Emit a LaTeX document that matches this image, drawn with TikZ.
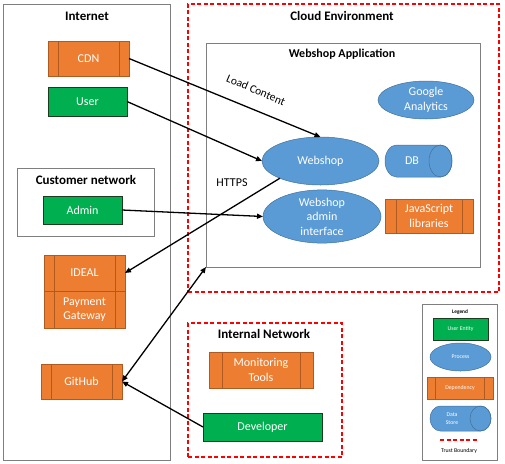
\documentclass[tikz,border=0pt]{standalone}
\usepackage{fontspec}
\setmainfont{Carlito}
\usetikzlibrary{shapes.geometric,arrows.meta,calc,backgrounds}
\definecolor{orangeF}{HTML}{ED7D31}
\definecolor{orangeB}{HTML}{AE5A21}
\definecolor{greenF}{HTML}{00B050}
\definecolor{greenB}{HTML}{1F3B1F}
\definecolor{blueF}{HTML}{5B9BD5}
\definecolor{blueB}{HTML}{41719C}
\definecolor{boxgray}{HTML}{7F7F7F}
\tikzset{
  base/.style={inner sep=0pt, outer sep=0pt, align=center, text=white, font=\fontsize{12}{14.6}\selectfont},
  entity/.style={base, rectangle, draw=greenB, fill=greenF, line width=0.8pt},
  process/.style={base, ellipse, draw=blueB, fill=blueF, line width=0.5pt},
  dep/.style={base, rectangle, draw=orangeB, fill=orangeF, line width=0.4pt,
    path picture={
      \draw[orangeB, line width=0.6pt] ($(path picture bounding box.south west)!0.125!(path picture bounding box.south east)$) -- ($(path picture bounding box.north west)!0.125!(path picture bounding box.north east)$);
      \draw[orangeB, line width=0.6pt] ($(path picture bounding box.south west)!0.875!(path picture bounding box.south east)$) -- ($(path picture bounding box.north west)!0.875!(path picture bounding box.north east)$);
    }},
  store/.style={base, rectangle},
  storeline/.style={draw=blueB, line width=0.5pt},
  container/.style={rectangle, draw=boxgray, line width=0.8pt, inner sep=0pt, outer sep=0pt},
  trust/.style={rectangle, draw=red, line width=1.5pt, dash pattern=on 4pt off 2.5pt, inner sep=0pt, outer sep=0pt},
  title/.style={inner sep=0pt, font=\bfseries\fontsize{13}{14}\selectfont},
  lbl/.style={inner sep=0pt, font=\fontsize{11.5}{13}\selectfont},
  flow/.style={line width=1.3pt, -{Triangle[length=6pt,width=5pt]}},
  flow2/.style={line width=1.3pt, {Triangle[length=6pt,width=5pt]}-{Triangle[length=6pt,width=5pt]}},
  legtext/.style={font=\fontsize{5.8}{7}\selectfont},
}
% horizontal cylinder behind a rectangular node: #1 node, #2 x radius, #3 y radius
\newcommand\myhcyl[3]{%
  \begin{scope}[on background layer]
    \filldraw[storeline, fill=blueF] ($(#1.north east)+(-#2,0)$)
      arc[start angle=-90, end angle=90, x radius=#2, y radius=#3]
      -- ($(#1.south west)+(#2,0)$)
      arc[start angle=90, end angle=270, x radius=#2, y radius=#3] -- cycle;
    \draw[storeline] ($(#1.east)+(-#2,0)$) ellipse[x radius=#2, y radius=#3];
  \end{scope}}
\begin{document}
\begin{tikzpicture}[x=1pt,y=-1pt]
\useasboundingbox (0,0) rectangle (505,463);
% containers
\node[container, minimum width=167pt, minimum height=456pt] (internet) at (86.5,232) {};
\node[title] (internetT) at (87,16) {Internet};
\node[container, minimum width=137pt, minimum height=68pt] (customer) at (85.5,202) {};
\node[title] (customerT) at (86,180) {Customer network};
\node[trust, minimum width=311pt, minimum height=288pt] (cloud) at (343.5,148) {};
\node[title] (cloudT) at (342,16) {Cloud Environment};
\node[container, minimum width=274pt, minimum height=224pt] (webapp) at (343,155) {};
\node[title, font=\bfseries\fontsize{12}{13}\selectfont] (webappT) at (342,54) {Webshop Application};
\node[trust, minimum width=154pt, minimum height=134pt] (internal) at (265,390) {};
\node[title] (internalT) at (264,334) {Internal Network};
\node[container, line width=0.6pt, minimum width=75pt, minimum height=156pt] (legend) at (459.5,382) {};

% Internet nodes
\node[dep, minimum width=81pt, minimum height=35pt] (cdn) at (88.5,58.5) {CDN};
\node[entity, minimum width=79pt, minimum height=29pt] (user) at (87.5,101.5) {User};
\node[entity, minimum width=79pt, minimum height=28pt] (admin) at (82.5,210) {Admin};
\node[dep, minimum width=81pt, minimum height=36pt] (ideal) at (84.5,273) {IDEAL};
\node[dep, minimum width=81pt, minimum height=37pt] (payment) at (84.5,309.5) {Payment\\Gateway};
\node[dep, minimum width=81pt, minimum height=35pt] (github) at (81.5,381.5) {GitHub};

% Webshop application nodes
\node[process, minimum width=117pt, minimum height=48pt] (webshop) at (320.5,161) {Webshop};
\node[process, minimum width=118pt, minimum height=47pt] (webadmin) at (322,216.5) {Webshop\\admin\\interface};
\node[process, minimum width=96pt, minimum height=38pt] (google) at (426,100) {Google\\Analytics};
\node[store, minimum width=67pt, minimum height=32pt] (db) at (418.5,161) {DB\hspace*{13pt}};
\myhcyl{db}{11.5}{16}
\node[dep, minimum width=88pt, minimum height=34pt] (js) at (429,216) {JavaScript\\libraries};

% Internal network nodes
\node[dep, minimum width=104pt, minimum height=36pt] (monitor) at (261,370) {Monitoring\\Tools};
\node[entity, minimum width=119pt, minimum height=28pt] (developer) at (262.5,427) {Developer};

% labels
\node[lbl, rotate=-23] (loadc) at (256,90) {Load Content};
\node[lbl, font=\fontsize{12}{13}\selectfont] (https) at (232,183) {HTTPS};

% connectors
\draw[flow] (cdn.east) -- (webshop.north);
\draw[flow] (user.east) -- (webshop.west);
\draw[flow] (admin.east) -- (webadmin.west);
\draw[flow] (webshop.203) -- (ideal.east);
\draw[flow2] (github.east) -- (webapp.south west);
\draw[flow] (developer.west) -- (github.east);

% legend
\node[legtext, font=\bfseries\fontsize{5.3}{6}\selectfont] (legT) at (460,312) {Legend};
\node[entity, line width=0.6pt, minimum width=55pt, minimum height=22pt, font=\fontsize{5.8}{7}\selectfont] (legUser) at (460.5,329) {User Entity};
\node[process, minimum width=61pt, minimum height=28pt, font=\fontsize{5.8}{7}\selectfont] (legProc) at (460.5,357) {Process};
\node[dep, minimum width=66pt, minimum height=22pt, font=\fontsize{5.8}{7}\selectfont] (legDep) at (460,388) {Dependency};
\node[store, minimum width=61pt, minimum height=25pt, font=\fontsize{5.8}{8}\selectfont] (legStore) at (460.5,418.5) {Data\hspace*{17pt}\\Store\hspace*{17pt}};
\myhcyl{legStore}{10.5}{12.5}
\coordinate (tbA) at (440,440);
\coordinate (tbB) at (478,440);
\draw[red, line width=1.5pt, dash pattern=on 4pt off 2.5pt] (tbA) -- (tbB);
\node[legtext] (legTB) at (459,451) {Trust Boundary};
\end{tikzpicture}
\end{document}
